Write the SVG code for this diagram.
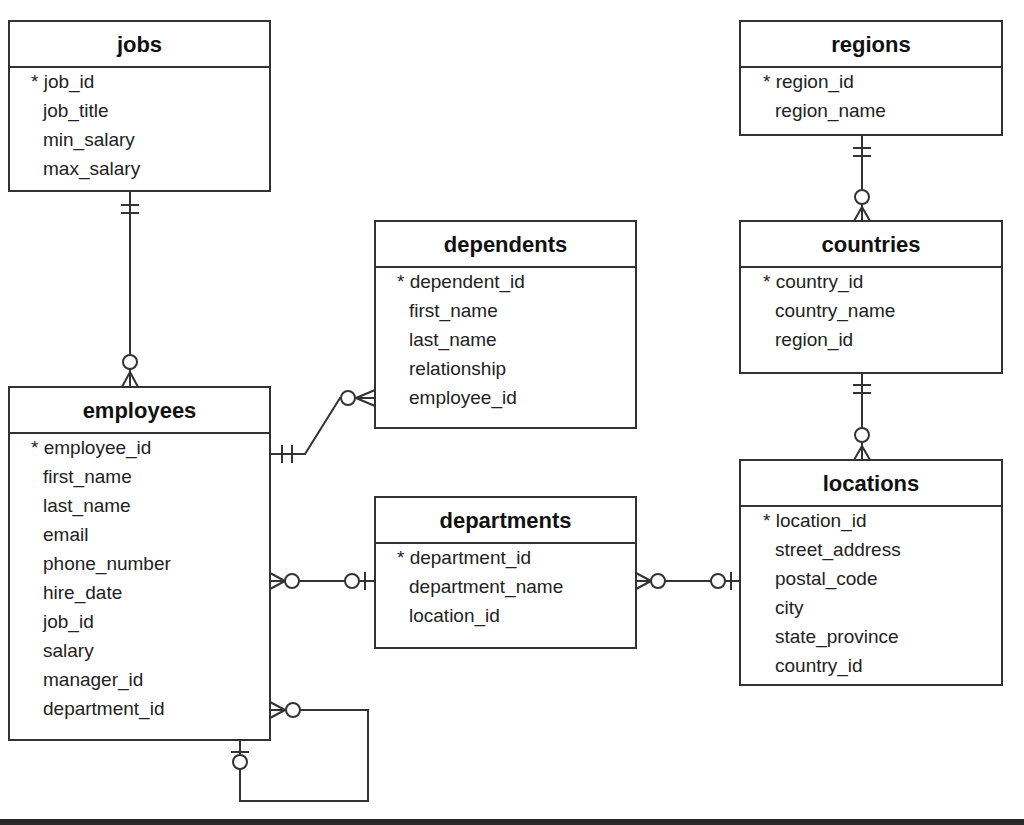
<svg xmlns="http://www.w3.org/2000/svg" width="1024" height="825" viewBox="0 0 1024 825">
<style>
.box{fill:#fff;stroke:#333;stroke-width:2}
.ln{fill:none;stroke:#333;stroke-width:2}
.ci{fill:#fff;stroke:#333;stroke-width:2}
.t{font-family:"Liberation Sans",Arial,sans-serif;font-weight:bold;font-size:22px;fill:#111;text-anchor:middle}
.f{font-family:"Liberation Sans",Arial,sans-serif;font-size:19px;fill:#222}
</style>
<rect width="1024" height="825" fill="#fff"/>
<g id="connectors">
<!-- jobs-employees -->
<path class="ln" d="M130 191V387M121 205H139M121 213H139M130 372L122 387M130 372L138 387"/>
<circle class="ci" cx="130" cy="362" r="7"/>
<!-- regions-countries -->
<path class="ln" d="M862 135V221M853 148H871M853 156H871M862 207L854 221M862 207L870 221"/>
<circle class="ci" cx="862" cy="197" r="7"/>
<!-- countries-locations -->
<path class="ln" d="M862 373V460M853 385H871M853 393H871M862 446L854 460M862 446L870 460"/>
<circle class="ci" cx="862" cy="435" r="7"/>
<!-- employees-dependents -->
<path class="ln" d="M270 454H305L340 398H375M282 445V463M292 445V463M356 398L375 390M356 398L375 406"/>
<circle class="ci" cx="348" cy="398" r="7"/>
<!-- employees-departments -->
<path class="ln" d="M270 581H375M285 581L270 573M285 581L270 589M365 572V590"/>
<circle class="ci" cx="292" cy="581" r="7"/>
<circle class="ci" cx="352" cy="581" r="7"/>
<!-- departments-locations -->
<path class="ln" d="M636 581H740M651 581L636 573M651 581L636 589M731 572V590"/>
<circle class="ci" cx="658" cy="581" r="7"/>
<circle class="ci" cx="718" cy="581" r="7"/>
<!-- self -->
<path class="ln" d="M270 710H368V801H240V740M285 710L270 702M285 710L270 718M231 752H249"/>
<circle class="ci" cx="293" cy="710" r="7"/>
<circle class="ci" cx="240" cy="762" r="7"/>
</g>
<g id="jobs">
<rect class="box" x="9" y="21" width="261" height="170"/><path class="ln" d="M9 67H270"/>
<text class="t" x="139.5" y="52">jobs</text>
<text class="f" x="31" y="88">* job_id</text><text class="f" x="43" y="117">job_title</text><text class="f" x="43" y="146">min_salary</text><text class="f" x="43" y="175">max_salary</text>
</g>
<g id="regions">
<rect class="box" x="740" y="21" width="262" height="114"/><path class="ln" d="M740 67H1002"/>
<text class="t" x="871" y="52">regions</text>
<text class="f" x="763" y="88">* region_id</text><text class="f" x="775" y="117">region_name</text>
</g>
<g id="dependents">
<rect class="box" x="375" y="221" width="261" height="207"/><path class="ln" d="M375 267H636"/>
<text class="t" x="505.5" y="252">dependents</text>
<text class="f" x="397" y="288">* dependent_id</text><text class="f" x="409" y="317">first_name</text><text class="f" x="409" y="346">last_name</text><text class="f" x="409" y="375">relationship</text><text class="f" x="409" y="404">employee_id</text>
</g>
<g id="countries">
<rect class="box" x="740" y="221" width="262" height="152"/><path class="ln" d="M740 267H1002"/>
<text class="t" x="871" y="252">countries</text>
<text class="f" x="763" y="288">* country_id</text><text class="f" x="775" y="317">country_name</text><text class="f" x="775" y="346">region_id</text>
</g>
<g id="employees">
<rect class="box" x="9" y="387" width="261" height="353"/><path class="ln" d="M9 433H270"/>
<text class="t" x="139.5" y="418">employees</text>
<text class="f" x="31" y="454">* employee_id</text><text class="f" x="43" y="483">first_name</text><text class="f" x="43" y="512">last_name</text><text class="f" x="43" y="541">email</text><text class="f" x="43" y="570">phone_number</text><text class="f" x="43" y="599">hire_date</text><text class="f" x="43" y="628">job_id</text><text class="f" x="43" y="657">salary</text><text class="f" x="43" y="686">manager_id</text><text class="f" x="43" y="715">department_id</text>
</g>
<g id="departments">
<rect class="box" x="375" y="497" width="261" height="151"/><path class="ln" d="M375 543H636"/>
<text class="t" x="505.5" y="528">departments</text>
<text class="f" x="397" y="564">* department_id</text><text class="f" x="409" y="593">department_name</text><text class="f" x="409" y="622">location_id</text>
</g>
<g id="locations">
<rect class="box" x="740" y="460" width="262" height="225"/><path class="ln" d="M740 506H1002"/>
<text class="t" x="871" y="491">locations</text>
<text class="f" x="763" y="527">* location_id</text><text class="f" x="775" y="556">street_address</text><text class="f" x="775" y="585">postal_code</text><text class="f" x="775" y="614">city</text><text class="f" x="775" y="643">state_province</text><text class="f" x="775" y="672">country_id</text>
</g>
<rect x="0" y="819" width="1024" height="6" fill="#2a2a2a"/>
</svg>
